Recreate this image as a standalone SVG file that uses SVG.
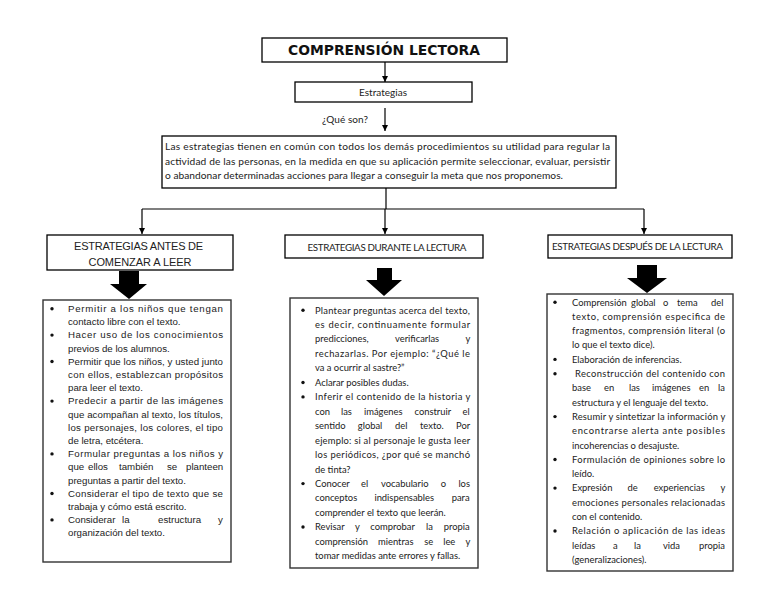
<svg xmlns="http://www.w3.org/2000/svg" width="768" height="594" viewBox="0 0 768 594">
<defs>
<style>
.box{fill:#fff;stroke:#000;stroke-width:1.3}
.bbox{fill:#fff;stroke:#333;stroke-width:1.4}
.con{fill:none;stroke:#000;stroke-width:1.2}
.big{fill:#000}
.ar{font-family:"Liberation Sans",Arial,sans-serif;fill:#222}
.la{font-family:Lato,"Liberation Sans",sans-serif;fill:#222}
.l{font-size:9.7px}
.m{font-size:9.4px}
.dot{fill:#111}
</style>
<marker id="ah" markerWidth="7" markerHeight="7" refX="6" refY="3" orient="auto" markerUnits="userSpaceOnUse">
<path d="M0,0 L6,3 L0,6 z" fill="#000"/>
</marker>
</defs>
<rect width="768" height="594" fill="#fff"/>

<g id="connectors">
<line class="con" x1="385" y1="62" x2="385" y2="82" marker-end="url(#ah)"/>
<line class="con" x1="385" y1="108" x2="385" y2="131" marker-end="url(#ah)"/>
<line class="con" x1="386" y1="188" x2="386" y2="209"/>
<line class="con" x1="142" y1="209" x2="644" y2="209"/>
<line class="con" x1="142" y1="209" x2="142" y2="234" marker-end="url(#ah)"/>
<line class="con" x1="385" y1="209" x2="385" y2="234" marker-end="url(#ah)"/>
<line class="con" x1="644" y1="209" x2="644" y2="234" marker-end="url(#ah)"/>
<polygon class="big" points="119,271 139,271 139,284 147,284 129,299 110,284 119,284"/>
<polygon class="big" points="377,268 392,268 392,280 402,280 384,296 366,280 377,280"/>
<polygon class="big" points="637,265 657,265 657,278 667,278 647,293 627,278 637,278"/>
</g>

<g id="title">
<rect class="box" x="262" y="38" width="245" height="24" stroke-width="1.6"/>
<text x="384" y="55" text-anchor="middle" font-family="'DejaVu Sans',sans-serif" font-weight="bold" font-size="13.5" textLength="192" lengthAdjust="spacingAndGlyphs" fill="#111">COMPRENSIÓN LECTORA</text>
</g>

<g id="estrategias">
<rect class="box" x="295" y="82" width="177" height="20"/>
<text class="la" x="383" y="95.5" text-anchor="middle" font-size="10" textLength="48">Estrategias</text>
</g>

<g id="que-son">
<text class="la" x="322" y="123" font-size="10" textLength="46">¿Qué son?</text>
</g>

<g id="definicion">
<rect class="box" x="162" y="136" width="454" height="52"/>
<text class="la" font-size="10.2">
<tspan x="165" y="150" textLength="445">Las estrategias tienen en común con todos los demás procedimientos su utilidad para regular la</tspan>
<tspan x="165" y="164.5" textLength="445">actividad de las personas, en la medida en que su aplicación permite seleccionar, evaluar, persistir</tspan>
<tspan x="165" y="179" textLength="398">o abandonar determinadas acciones para llegar a conseguir la meta que nos proponemos.</tspan>
</text>
</g>

<g id="antes">
<rect class="box" x="47" y="235" width="186" height="35"/>
<text class="ar" font-size="11" text-anchor="middle">
<tspan x="140" y="250" textLength="129">ESTRATEGIAS ANTES DE</tspan>
<tspan x="140" y="265.5" textLength="103">COMENZAR A LEER</tspan>
</text>
</g>

<g id="durante">
<rect class="box" x="285" y="235" width="198" height="23"/>
<text class="la" x="387" y="250.5" font-size="9.8" text-anchor="middle" textLength="159">ESTRATEGIAS DURANTE LA LECTURA</text>
</g>

<g id="despues">
<rect class="box" x="548" y="235" width="184" height="23"/>
<text class="la" x="637.5" y="250" font-size="9.8" text-anchor="middle" textLength="171">ESTRATEGIAS DESPUÉS DE LA LECTURA</text>
</g>

<g id="lista-antes">
<rect class="bbox" x="43" y="300" width="188" height="262"/>
<g class="dot">
<circle cx="52" cy="308.7" r="1.7"/><circle cx="52" cy="335.1" r="1.7"/><circle cx="52" cy="361.5" r="1.7"/><circle cx="52" cy="401.1" r="1.7"/><circle cx="52" cy="453.9" r="1.7"/><circle cx="52" cy="493.5" r="1.7"/><circle cx="52" cy="519.9" r="1.7"/>
</g>
<text class="ar l">
<tspan x="68" y="312" textLength="155">Permitir a los niños que tengan</tspan>
<tspan x="68" y="325.2">contacto libre con el texto.</tspan>
<tspan x="68" y="338.4" textLength="155">Hacer uso de los conocimientos</tspan>
<tspan x="68" y="351.6">previos de los alumnos.</tspan>
<tspan x="68" y="364.8" textLength="155">Permitir que los niños, y usted junto</tspan>
<tspan x="68" y="378" textLength="155">con ellos, establezcan propósitos</tspan>
<tspan x="68" y="391.2">para leer el texto.</tspan>
<tspan x="68" y="404.4" textLength="155">Predecir a partir de las imágenes</tspan>
<tspan x="68" y="417.6" textLength="155">que acompañan al texto, los títulos,</tspan>
<tspan x="68" y="430.8" textLength="155">los personajes, los colores, el tipo</tspan>
<tspan x="68" y="444">de letra, etcétera.</tspan>
<tspan x="68" y="457.2" textLength="155">Formular preguntas a los niños y</tspan>
<tspan x="68" y="470.4">que</tspan><tspan x="88" y="470.4">ellos</tspan><tspan x="119" y="470.4">también</tspan><tspan x="167" y="470.4">se</tspan><tspan x="186" y="470.4">planteen</tspan>
<tspan x="68" y="483.6">preguntas a partir del texto.</tspan>
<tspan x="68" y="496.8" textLength="155">Considerar el tipo de texto que se</tspan>
<tspan x="68" y="510">trabaja y cómo está escrito.</tspan>
<tspan x="68" y="523.2">Considerar</tspan><tspan x="122" y="523.2">la</tspan><tspan x="158" y="523.2">estructura</tspan><tspan x="218" y="523.2">y</tspan>
<tspan x="68" y="536.4">organización del texto.</tspan>
</text>
</g>

<g id="lista-durante">
<rect class="bbox" x="290" y="298" width="188" height="270"/>
<g class="dot">
<circle cx="303" cy="310.2" r="1.7"/><circle cx="303" cy="382.5" r="1.7"/><circle cx="303" cy="396.9" r="1.7"/><circle cx="303" cy="483.6" r="1.7"/><circle cx="303" cy="527" r="1.7"/>
</g>
<text class="la m">
<tspan x="315" y="313.5" textLength="155">Plantear preguntas acerca del texto,</tspan>
<tspan x="315" y="328" textLength="155">es decir, continuamente formular</tspan>
<tspan x="315" y="342.4">predicciones,</tspan><tspan x="395" y="342.4">verificarlas</tspan><tspan x="465.5" y="342.4">y</tspan>
<tspan x="315" y="356.9" textLength="155">rechazarlas. Por ejemplo: “¿Qué le</tspan>
<tspan x="315" y="371.3">va a ocurrir al sastre?”</tspan>
<tspan x="315" y="385.8">Aclarar posibles dudas.</tspan>
<tspan x="315" y="400.2" textLength="155">Inferir el contenido de la historia y</tspan>
<tspan x="315" y="414.7">con</tspan><tspan x="341" y="414.7">las</tspan><tspan x="364" y="414.7">imágenes</tspan><tspan x="414.5" y="414.7">construir</tspan><tspan x="462.5" y="414.7">el</tspan>
<tspan x="315" y="429.1">sentido</tspan><tspan x="357.8" y="429.1">global</tspan><tspan x="395" y="429.1">del</tspan><tspan x="420" y="429.1">texto.</tspan><tspan x="456" y="429.1">Por</tspan>
<tspan x="315" y="443.6" textLength="155">ejemplo: si al personaje le gusta leer</tspan>
<tspan x="315" y="458" textLength="155">los periódicos, ¿por qué se manchó</tspan>
<tspan x="315" y="472.5">de tinta?</tspan>
<tspan x="315" y="486.9">Conocer</tspan><tspan x="361" y="486.9">el</tspan><tspan x="381" y="486.9">vocabulario</tspan><tspan x="440.7" y="486.9">o</tspan><tspan x="458.4" y="486.9">los</tspan>
<tspan x="315" y="501.4">conceptos</tspan><tspan x="374.4" y="501.4">indispensables</tspan><tspan x="451.7" y="501.4">para</tspan>
<tspan x="315" y="515.8">comprender el texto que leerán.</tspan>
<tspan x="315" y="530.3">Revisar</tspan><tspan x="355" y="530.3">y</tspan><tspan x="370.3" y="530.3">comprobar</tspan><tspan x="426" y="530.3">la</tspan><tspan x="443.8" y="530.3">propia</tspan>
<tspan x="315" y="544.7">comprensión</tspan><tspan x="378" y="544.7">mientras</tspan><tspan x="424.3" y="544.7">se</tspan><tspan x="443.2" y="544.7">lee</tspan><tspan x="465.5" y="544.7">y</tspan>
<tspan x="315" y="559.2">tomar medidas ante errores y fallas.</tspan>
</text>
</g>

<g id="lista-despues">
<rect class="bbox" x="547" y="294" width="186" height="277"/>
<g class="dot">
<circle cx="555" cy="302.2" r="1.7"/><circle cx="555" cy="359.4" r="1.7"/><circle cx="555" cy="373.7" r="1.7"/><circle cx="555" cy="416.6" r="1.7"/><circle cx="555" cy="459.5" r="1.7"/><circle cx="555" cy="488.1" r="1.7"/><circle cx="555" cy="531" r="1.7"/>
</g>
<text class="la m">
<tspan x="572" y="305.5">Comprensión</tspan><tspan x="631" y="305.5">global</tspan><tspan x="663" y="305.5">o</tspan><tspan x="677" y="305.5">tema</tspan><tspan x="711" y="305.5">del</tspan>
<tspan x="572" y="319.8" textLength="153">texto, comprensión especifica de</tspan>
<tspan x="572" y="334.1" textLength="153">fragmentos, comprensión literal (o</tspan>
<tspan x="572" y="348.4">lo que el texto dice).</tspan>
<tspan x="572" y="362.7">Elaboración de inferencias.</tspan>
<tspan x="575" y="377" textLength="150">Reconstrucción del contenido con</tspan>
<tspan x="572" y="391.3">base</tspan><tspan x="604" y="391.3">en</tspan><tspan x="629" y="391.3">las</tspan><tspan x="652" y="391.3">imágenes</tspan><tspan x="699" y="391.3">en</tspan><tspan x="718" y="391.3">la</tspan>
<tspan x="572" y="405.6">estructura y el lenguaje del texto.</tspan>
<tspan x="572" y="419.9" textLength="153">Resumir y sintetizar la información y</tspan>
<tspan x="572" y="434.2" textLength="153">encontrarse alerta ante posibles</tspan>
<tspan x="572" y="448.5">incoherencias o desajuste.</tspan>
<tspan x="572" y="462.8" textLength="153">Formulación de opiniones sobre lo</tspan>
<tspan x="572" y="477.1">leído.</tspan>
<tspan x="572" y="491.4">Expresión</tspan><tspan x="627.6" y="491.4">de</tspan><tspan x="653.7" y="491.4">experiencias</tspan><tspan x="720.4" y="491.4">y</tspan>
<tspan x="572" y="505.7" textLength="153">emociones personales relacionadas</tspan>
<tspan x="572" y="520">con el contenido.</tspan>
<tspan x="572" y="534.3" textLength="153">Relación o aplicación de las ideas</tspan>
<tspan x="572" y="548.6">leídas</tspan><tspan x="613" y="548.6">a</tspan><tspan x="634" y="548.6">la</tspan><tspan x="663" y="548.6">vida</tspan><tspan x="699" y="548.6">propia</tspan>
<tspan x="572" y="562.9">(generalizaciones).</tspan>
</text>
</g>
</svg>
